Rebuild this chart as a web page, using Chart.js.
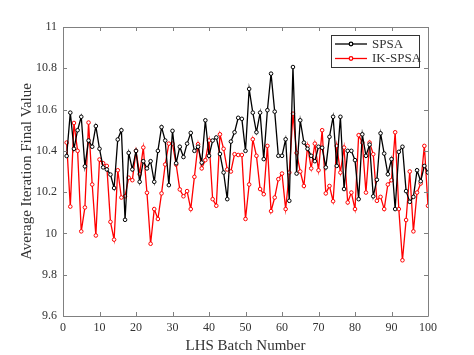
<!DOCTYPE html>
<html>
<head>
<meta charset="utf-8">
<script src="https://cdn.jsdelivr.net/npm/chart.js@4/dist/chart.umd.min.js"></script>
<style>
html,body{margin:0;padding:0;background:#fff;}
#wrap{width:474px;height:355px;position:relative;}
</style>
</head>
<body>
<div id="wrap"><canvas id="c" width="474" height="355"></canvas></div>
<script>
const batches = [1,2,3,4,5,6,7,8,9,10,11,12,13,14,15,16,17,18,19,20,21,22,23,24,25,26,27,28,29,30,31,32,33,34,35,36,37,38,39,40,41,42,43,44,45,46,47,48,49,50,51,52,53,54,55,56,57,58,59,60,61,62,63,64,65,66,67,68,69,70,71,72,73,74,75,76,77,78,79,80,81,82,83,84,85,86,87,88,89,90,91,92,93,94,95,96,97,98,99,100];
const spsa = [10.375,10.585,10.41,10.50,10.565,10.325,10.45,10.42,10.52,10.41,
10.32,10.31,10.285,10.22,10.455,10.50,10.066,10.39,10.31,10.40,
10.25,10.35,10.315,10.35,10.25,10.40,10.515,10.45,10.234,10.497,
10.34,10.42,10.37,10.435,10.487,10.40,10.42,10.343,10.548,10.376,
10.45,10.465,10.385,10.295,10.166,10.445,10.49,10.56,10.555,10.40,
10.70,10.585,10.49,10.585,10.36,10.597,10.774,10.59,10.376,10.376,
10.456,10.158,10.806,10.29,10.548,10.44,10.41,10.376,10.35,10.42,
10.415,10.32,10.468,10.565,10.327,10.565,10.215,10.40,10.40,10.355,
10.166,10.48,10.376,10.43,10.18,10.26,10.485,10.387,10.287,10.36,
10.118,10.395,10.42,10.205,10.153,10.177,10.306,10.253,10.327,10.295];
const ikspsa = [10.44,10.13,10.535,10.40,10.01,10.126,10.537,10.237,9.99,10.358,
10.34,10.327,10.056,9.97,10.306,10.174,10.18,10.27,10.258,10.40,
10.287,10.416,10.197,9.95,10.118,10.07,10.194,10.334,10.435,10.435,
10.334,10.213,10.18,10.205,10.118,10.274,10.432,10.315,10.355,10.45,
10.166,10.134,10.48,10.41,10.31,10.30,10.384,10.38,10.38,10.07,
10.237,10.456,10.376,10.215,10.19,10.424,10.108,10.174,10.263,10.29,
10.118,10.295,10.58,10.39,10.30,10.23,10.424,10.315,10.435,10.306,
10.50,10.194,10.23,10.156,10.424,10.295,10.416,10.15,10.198,10.118,
10.476,10.44,10.198,10.44,10.384,10.158,10.177,10.118,10.237,10.258,
10.49,10.118,9.87,10.065,10.30,10.01,10.198,10.242,10.424,10.134];
const seriesNames = ["SPSA","IK-SPSA"];
const xTicks = [0,10,20,30,40,50,60,70,80,90,100];
const yTicks = [9.6,9.8,10,10.2,10.4,10.6,10.8,11];

const FONT = "'Liberation Serif','Times New Roman',serif";
const AXIS_COLOR = '#808080';
const TEXT_COLOR = '#333333';

const boxTicks = {
  id: 'boxTicks',
  afterDatasetsDraw(chart) {
    const ctx = chart.ctx, a = chart.chartArea;
    const xs = chart.scales.x, ys = chart.scales.y;
    ctx.save();
    ctx.strokeStyle = AXIS_COLOR;
    ctx.lineWidth = 1;
    ctx.beginPath();
    ctx.rect(Math.round(a.left)+0.5, Math.round(a.top)+0.5, Math.round(a.right-a.left), Math.round(a.bottom-a.top));
    ctx.stroke();
    const L = 4;
    ctx.beginPath();
    xTicks.forEach(v => {
      const px = Math.round(xs.getPixelForValue(v))+0.5;
      ctx.moveTo(px, a.bottom); ctx.lineTo(px, a.bottom - L);
      ctx.moveTo(px, a.top); ctx.lineTo(px, a.top + L);
    });
    yTicks.forEach(v => {
      const py = Math.round(ys.getPixelForValue(v))+0.5;
      ctx.moveTo(a.left, py); ctx.lineTo(a.left + L, py);
      ctx.moveTo(a.right, py); ctx.lineTo(a.right - L, py);
    });
    ctx.stroke();
    ctx.restore();
  },
  afterDraw(chart) {
    const ctx = chart.ctx, a = chart.chartArea;
    const bw = 88, bh = 32;
    const bx = a.right - 9 - bw, by = a.top + 8;
    ctx.save();
    ctx.fillStyle = '#fff';
    ctx.fillRect(bx, by, bw, bh);
    ctx.strokeStyle = '#333';
    ctx.lineWidth = 1;
    ctx.strokeRect(Math.round(bx)+0.5, Math.round(by)+0.5, bw, bh);
    ctx.font = "13px " + FONT;
    ctx.textBaseline = 'middle';
    chart.data.datasets.forEach((ds, i) => {
      const y = by + 9 + i * 14.5;
      const x0 = bx + 4, x1 = bx + 36;
      ctx.strokeStyle = ds.borderColor;
      ctx.lineWidth = 1.3;
      ctx.beginPath(); ctx.moveTo(x0, y); ctx.lineTo(x1, y); ctx.stroke();
      ctx.beginPath(); ctx.arc((x0+x1)/2, y, 1.8, 0, Math.PI*2);
      ctx.fillStyle = '#fff'; ctx.fill(); ctx.stroke();
      ctx.fillStyle = TEXT_COLOR;
      ctx.fillText(ds.label, x1 + 5, y + 0.5);
    });
    ctx.restore();
  }
};

const mk = (vals) => batches.map((b, i) => ({x: b, y: vals[i]}));

new Chart(document.getElementById('c'), {
  type: 'line',
  data: {
    datasets: [
      {label: seriesNames[0], data: mk(spsa), borderColor: '#000000', backgroundColor: '#ffffff',
       pointBackgroundColor: '#ffffff', pointBorderColor: '#000000', borderWidth: 1.3,
       pointRadius: 1.8, pointBorderWidth: 1, tension: 0},
      {label: seriesNames[1], data: mk(ikspsa), borderColor: '#ff0000', backgroundColor: '#ffffff',
       pointBackgroundColor: '#ffffff', pointBorderColor: '#ff0000', borderWidth: 1.3,
       pointRadius: 1.8, pointBorderWidth: 1, tension: 0}
    ]
  },
  options: {
    responsive: false,
    animation: false,
    layout: {padding: {top: 27, right: 46, left: 0, bottom: 0}},
    plugins: {legend: {display: false}, tooltip: {enabled: false}},
    scales: {
      x: {
        type: 'linear', min: 0, max: 100,
        afterBuildTicks: s => { s.ticks = xTicks.map(v => ({value: v})); },
        afterFit: s => { s.height = 39; },
        grid: {display: false, drawTicks: false},
        border: {display: false},
        ticks: {color: TEXT_COLOR, font: {family: FONT, size: 12}, padding: 5, maxRotation: 0,
                callback: v => String(v)},
        title: {display: true, text: 'LHS Batch Number', color: TEXT_COLOR,
                font: {family: FONT, size: 15}, padding: {top: 0, bottom: 0}}
      },
      y: {
        type: 'linear', min: 9.6, max: 11,
        afterBuildTicks: s => { s.ticks = yTicks.map(v => ({value: v})); },
        afterFit: s => { s.width = 63; },
        grid: {display: false, drawTicks: false},
        border: {display: false},
        ticks: {color: TEXT_COLOR, font: {family: FONT, size: 12}, padding: 6,
                callback: v => String(Math.round(v * 10) / 10)},
        title: {display: true, text: 'Average Iteration Final Value', color: TEXT_COLOR,
                font: {family: FONT, size: 15}, padding: {top: 18, bottom: 0}}
      }
    }
  },
  plugins: [boxTicks]
});
</script>
</body>
</html>
